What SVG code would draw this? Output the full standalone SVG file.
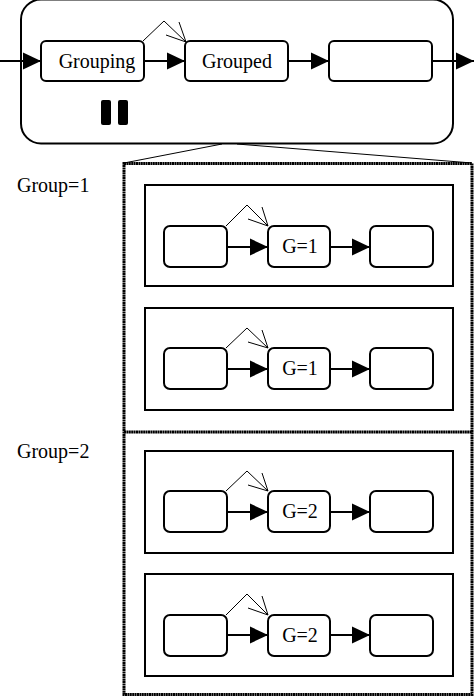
<svg xmlns="http://www.w3.org/2000/svg" width="474" height="698" viewBox="0 0 474 698">
<defs>
<style>
.st{fill:#fff;stroke:#000;stroke-width:2}
.pn{fill:none;stroke:#000;stroke-width:2}
.ln{fill:none;stroke:#000;stroke-width:2}
.th{fill:none;stroke:#000;stroke-width:1}
.dt{fill:none;stroke:#000;stroke-width:3;stroke-dasharray:2 0.4}
.tx{font-family:"Liberation Serif","Times New Roman",serif;font-size:20px;fill:#000}
.ct{text-anchor:middle}
</style>
<marker id="ah" markerUnits="userSpaceOnUse" markerWidth="18" markerHeight="18" viewBox="0 0 17 16" refX="17" refY="8" orient="auto">
<path d="M0,0 L17,8 L0,16 Z" fill="#000"/>
</marker>
</defs>
<rect width="474" height="698" fill="#fff"/>

<g id="superstate">
<rect x="21" y="-0.5" width="432" height="144" rx="20" class="pn"/>
</g>
<g id="pause">
<rect x="101" y="100" width="10" height="25" rx="2" fill="#000"/>
<rect x="118" y="100" width="10" height="25" rx="2" fill="#000"/>
</g>
<g id="grouping"><rect x="41" y="41" width="103" height="40" rx="5" class="st"/><text x="97" y="68" class="tx ct">Grouping</text></g>
<g id="grouped"><rect x="185" y="41" width="103" height="40" rx="5" class="st"/><text x="237" y="68" class="tx ct">Grouped</text></g>
<g id="state3"><rect x="329" y="41" width="103" height="40" rx="5" class="st"/></g>

<g id="expansion">
<rect x="124" y="163.5" width="348" height="531" class="dt"/>
<line x1="124" y1="432" x2="472" y2="432" class="dt"/>
</g>
<text x="17" y="192" class="tx" font-size="19.5">Group=1</text>
<text x="17" y="458" class="tx" font-size="19.5">Group=2</text>

<g id="panel1">
<rect x="145" y="185" width="308" height="101" class="pn"/>
<rect x="164" y="226" width="63" height="41" rx="6" class="st"/>
<rect x="268" y="226" width="62" height="41" rx="6" class="st"/><text x="300" y="253" class="tx ct">G=1</text>
<rect x="370" y="226" width="63" height="41" rx="6" class="st"/>
</g>
<g id="panel2">
<rect x="145" y="308" width="308" height="102" class="pn"/>
<rect x="164" y="348" width="63" height="41" rx="6" class="st"/>
<rect x="268" y="348" width="62" height="41" rx="6" class="st"/><text x="300" y="375" class="tx ct">G=1</text>
<rect x="370" y="348" width="63" height="41" rx="6" class="st"/>
</g>
<g id="panel3">
<rect x="145" y="451" width="308" height="102" class="pn"/>
<rect x="164" y="491" width="63" height="41" rx="6" class="st"/>
<rect x="268" y="491" width="62" height="41" rx="6" class="st"/><text x="300" y="518" class="tx ct">G=2</text>
<rect x="370" y="491" width="63" height="41" rx="6" class="st"/>
</g>
<g id="panel4">
<rect x="145" y="574" width="308" height="102" class="pn"/>
<rect x="164" y="615" width="63" height="41" rx="6" class="st"/>
<rect x="268" y="615" width="62" height="41" rx="6" class="st"/><text x="300" y="642" class="tx ct">G=2</text>
<rect x="370" y="615" width="63" height="41" rx="6" class="st"/>
</g>

<g id="connectors">
<line x1="0" y1="61" x2="41" y2="61" class="ln" marker-end="url(#ah)"/>
<line x1="144" y1="61" x2="185" y2="61" class="ln" marker-end="url(#ah)"/>
<line x1="288" y1="61" x2="329" y2="61" class="ln" marker-end="url(#ah)"/>
<line x1="432" y1="61" x2="474" y2="61" class="ln" marker-end="url(#ah)"/>
<path d="M143,41 L164,21 L186,42 M179,22 L186,42 L166,35" class="th"/>
<line x1="222" y1="144" x2="124" y2="163" class="th"/>
<line x1="237" y1="144" x2="472" y2="163" class="th"/>

<line x1="227" y1="247" x2="268" y2="247" class="ln" marker-end="url(#ah)"/>
<line x1="330" y1="247" x2="370" y2="247" class="ln" marker-end="url(#ah)"/>
<path d="M226,226 L247,205 L268,226 M262,207 L268,226 L248,219" class="th"/>

<line x1="227" y1="369" x2="268" y2="369" class="ln" marker-end="url(#ah)"/>
<line x1="330" y1="369" x2="370" y2="369" class="ln" marker-end="url(#ah)"/>
<path d="M226,348 L247,328 L268,348 M262,330 L268,348 L248,342" class="th"/>

<line x1="227" y1="512" x2="268" y2="512" class="ln" marker-end="url(#ah)"/>
<line x1="330" y1="512" x2="370" y2="512" class="ln" marker-end="url(#ah)"/>
<path d="M226,491 L247,471 L268,491 M262,473 L268,491 L248,485" class="th"/>

<line x1="227" y1="635" x2="268" y2="635" class="ln" marker-end="url(#ah)"/>
<line x1="330" y1="635" x2="370" y2="635" class="ln" marker-end="url(#ah)"/>
<path d="M226,615 L247,594 L268,615 M262,596 L268,615 L248,608" class="th"/>
</g>
</svg>
